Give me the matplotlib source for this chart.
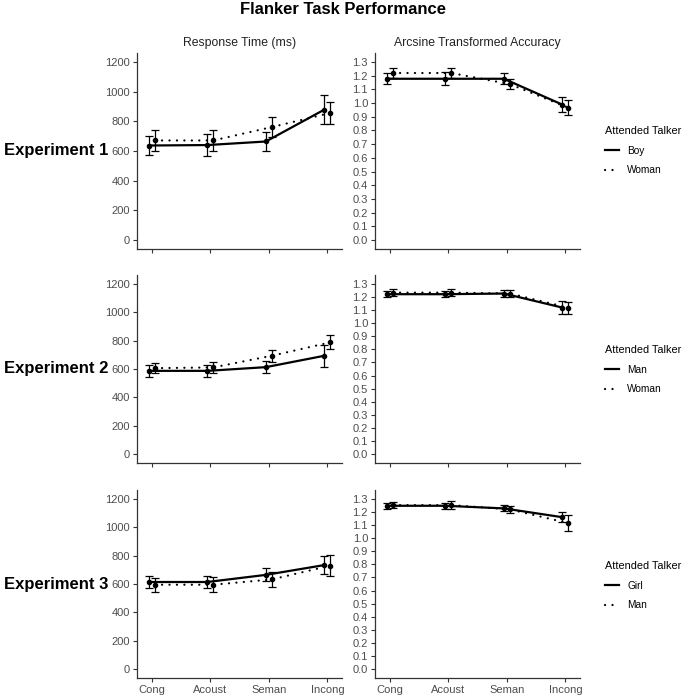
import numpy as np
import matplotlib
matplotlib.use("Agg")
import matplotlib.pyplot as plt
from matplotlib.lines import Line2D

plt.rcParams['font.family'] = ['Liberation Sans', 'DejaVu Sans']

conditions = ['Cong', 'Acoust', 'Seman', 'Incong']
experiments = ['Experiment 1', 'Experiment 2', 'Experiment 3']
talkers = [['Boy', 'Woman'], ['Man', 'Woman'], ['Girl', 'Man']]

# response time (ms), [solid talker, dotted talker] per experiment
rt_mean = [
    [[637, 640, 664, 879], [671, 671, 761, 856]],
    [[587, 587, 613, 693], [606, 611, 693, 787]],
    [[614, 614, 664, 733], [595, 595, 632, 729]],
]
rt_err = [
    [[65, 73, 64, 98], [68, 68, 65, 76]],
    [[43, 44, 41, 76], [35, 40, 43, 49]],
    [[43, 43, 46, 63], [50, 52, 54, 72]],
]
# arcsine transformed accuracy
acc_mean = [
    [[1.177, 1.177, 1.177, 0.988], [1.219, 1.219, 1.138, 0.966]],
    [[1.219, 1.219, 1.224, 1.117], [1.231, 1.231, 1.224, 1.117]],
    [[1.245, 1.245, 1.225, 1.158], [1.250, 1.250, 1.218, 1.113]],
]
acc_err = [
    [[0.040, 0.047, 0.040, 0.055], [0.037, 0.040, 0.037, 0.055]],
    [[0.025, 0.025, 0.025, 0.048], [0.024, 0.024, 0.025, 0.045]],
    [[0.024, 0.024, 0.023, 0.037], [0.025, 0.030, 0.028, 0.060]],
]

W, H = 685, 696
fig = plt.figure(figsize=(W / 100, H / 100), dpi=100)

rows_px = [(53, 249), (275, 463), (490, 678)]
cols_px = [(137, 342), (375, 580)]

x = np.arange(1, 5)
dodge = 0.05
styles = [dict(linestyle='-'),
          dict(linestyle=(0, (0.05, 3.3)), dash_capstyle='round')]
axcol = '#333333'
tickcol = '#4D4D4D'

for r in range(3):
    for c in range(2):
        left = cols_px[c][0] / W
        width = (cols_px[c][1] - cols_px[c][0]) / W
        bottom = 1 - rows_px[r][1] / H
        height = (rows_px[r][1] - rows_px[r][0]) / H
        ax = fig.add_axes([left, bottom, width, height])
        means = rt_mean[r] if c == 0 else acc_mean[r]
        errs = rt_err[r] if c == 0 else acc_err[r]
        for s in range(2):
            xs = x + (-dodge if s == 0 else dodge)
            ax.plot(xs, means[s], color='black', lw=1.6, **styles[s])
            ax.errorbar(xs, means[s], yerr=errs[s], fmt='o', color='black',
                        ms=3, elinewidth=0.9, capsize=3.2, capthick=0.9)
        ax.set_xlim(0.75, 4.25)
        ax.set_xticks(x)
        if r == 2:
            ax.set_xticklabels(conditions)
        else:
            ax.set_xticklabels([])
        if c == 0:
            ax.set_ylim(-60, 1260)
            ax.set_yticks(np.arange(0, 1201, 200))
        else:
            ax.set_ylim(-0.065, 1.365)
            ticks = np.round(np.arange(0, 1.31, 0.1), 1)
            ax.set_yticks(ticks)
            ax.set_yticklabels(['%.1f' % t for t in ticks])
        for side in ['top', 'right']:
            ax.spines[side].set_visible(False)
        for side in ['left', 'bottom']:
            ax.spines[side].set_color(axcol)
            ax.spines[side].set_linewidth(0.9)
        ax.tick_params(colors=axcol, labelcolor=tickcol, labelsize=8,
                       length=3, width=0.8, pad=2)
        if r == 0:
            ax.set_title(['Response Time (ms)', 'Arcsine Transformed Accuracy'][c],
                         fontsize=8.8, color='#222222', pad=5)

    ymid = 1 - (rows_px[r][0] + rows_px[r][1]) / 2 / H
    fig.text(56 / W, ymid, experiments[r], fontsize=12, fontweight='bold',
             ha='center', va='center')

    handles = [Line2D([0], [0], color='black', lw=1.6, **styles[0]),
               Line2D([0], [0], color='black', lw=1.6, **styles[1])]
    leg_top = [126, 345, 561][r]
    leg = fig.legend(handles, talkers[r], title='Attended Talker',
                     loc='upper left', bbox_to_anchor=(605 / W, 1 - leg_top / H),
                     frameon=False, fontsize=7.3, title_fontsize=7.8,
                     handlelength=1.4, handletextpad=0.8, labelspacing=0.95,
                     borderaxespad=0, borderpad=0)
    leg._legend_box.align = 'left'

fig.text(0.5, 1 - 10 / H, 'Flanker Task Performance', fontsize=12,
         fontweight='bold', ha='center', va='center')

fig.savefig('out.png', dpi=100)
